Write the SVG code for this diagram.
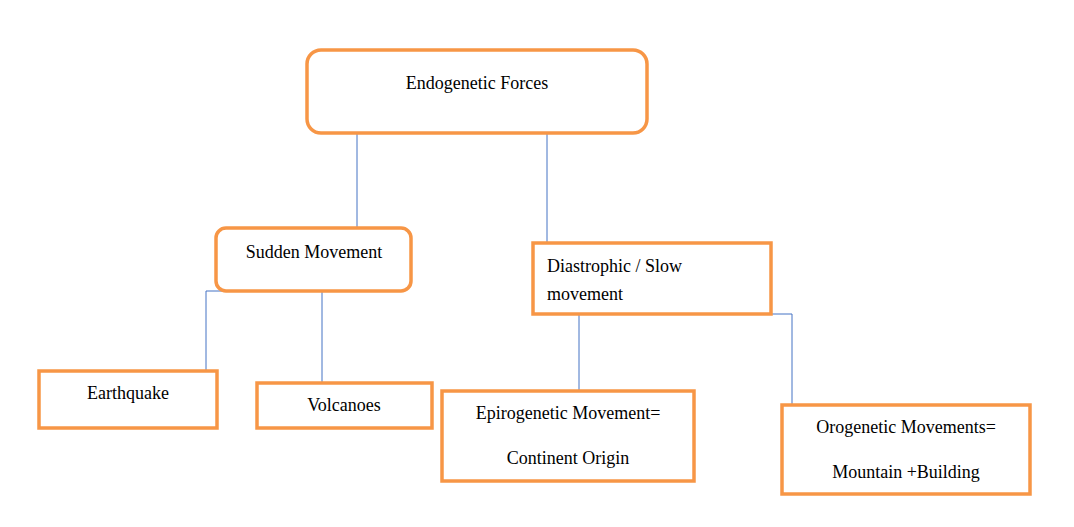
<svg xmlns="http://www.w3.org/2000/svg" width="1074" height="527" viewBox="0 0 1074 527">
<style>
.n{fill:#fff;stroke:#F79646;stroke-width:3.5}
.t{font-family:"Liberation Serif",serif;font-size:18px;fill:#000}
.c{fill:none;stroke:#4472C4;stroke-width:1}
.d{fill:none;stroke:#2F5597;stroke-width:2}
</style>
<rect width="1074" height="527" fill="#fff"/>
<g id="connectors">
<path class="c" d="M357,133V228H272"/>
<path class="c" d="M547,133V243"/>
<path class="c" d="M206,371V291H322V383"/>
<path class="c" d="M579,391V314H792V405"/>
<path class="d" d="M272,228H357M120,371H206M322,383H380M541,391H579M792,405H940M580,314H615M647,314H735"/>
</g>
<g id="endogenetic"><rect class="n" x="307" y="50" width="340" height="83" rx="14"/><text class="t" x="477" y="89" text-anchor="middle">Endogenetic Forces</text></g>
<g id="sudden"><rect class="n" x="216" y="228" width="195" height="63" rx="10"/><text class="t" x="314" y="258" text-anchor="middle">Sudden Movement</text></g>
<g id="diastrophic"><rect class="n" x="533" y="243" width="238" height="71"/><text class="t" x="547" y="272">Diastrophic / Slow</text><text class="t" x="547" y="300">movement</text></g>
<g id="earthquake"><rect class="n" x="39" y="371" width="178" height="57"/><text class="t" x="128" y="399" text-anchor="middle">Earthquake</text></g>
<g id="volcanoes"><rect class="n" x="257" y="383" width="175" height="45"/><text class="t" x="344" y="411" text-anchor="middle">Volcanoes</text></g>
<g id="epirogenetic"><rect class="n" x="442" y="391" width="252" height="90"/><text class="t" x="568" y="419" text-anchor="middle">Epirogenetic Movement=</text><text class="t" x="568" y="464" text-anchor="middle">Continent Origin</text></g>
<g id="orogenetic"><rect class="n" x="782" y="405" width="248" height="89"/><text class="t" x="906" y="433" text-anchor="middle">Orogenetic Movements=</text><text class="t" x="906" y="478" text-anchor="middle">Mountain +Building</text></g>
</svg>
